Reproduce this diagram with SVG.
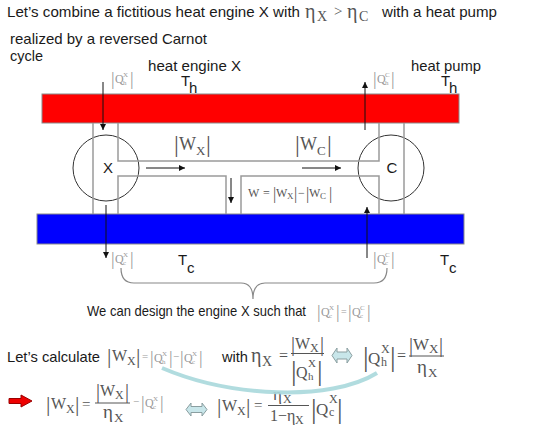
<svg xmlns="http://www.w3.org/2000/svg" width="547" height="438" viewBox="0 0 547 438">
<defs>
<style>
.t{font-family:"Liberation Sans",Arial,sans-serif;font-size:15px;fill:#1a1a1a}
.m{font-family:"Liberation Serif","Times New Roman",serif;fill:#555}
.ml{font-family:"Liberation Serif","Times New Roman",serif;fill:#9a9a9a}
.ch{fill:none;stroke:#9a9a9a;stroke-width:1.5}
.ar{fill:none;stroke:#111;stroke-width:1;marker-end:url(#ah)}
.dbl{fill:#c8e6ea;stroke:#8a9ea0;stroke-width:1}
</style>
<marker id="ah" markerWidth="8" markerHeight="8" refX="6" refY="3" orient="auto" markerUnits="userSpaceOnUse">
<path d="M0,0 L6,3 L0,6 Z" fill="#111"/>
</marker>
</defs>
<rect width="547" height="438" fill="#fff"/>

<!-- title texts -->
<g id="title">
<text class="t" x="7" y="17" textLength="293" lengthAdjust="spacingAndGlyphs">Let’s combine a fictitious heat engine X with</text>
<text class="m" x="305" y="18" font-size="20">η</text>
<text class="m" x="317" y="21" font-size="14">X</text>
<text class="m" x="334" y="16" font-size="15">&gt;</text>
<text class="m" x="347" y="18" font-size="20">η</text>
<text class="m" x="359" y="21" font-size="14">C</text>
<text class="t" x="382" y="17" textLength="115" lengthAdjust="spacingAndGlyphs">with a heat pump</text>
<text class="t" x="10" y="44" textLength="197" lengthAdjust="spacingAndGlyphs">realized by a reversed Carnot</text>
<text class="t" x="10" y="61" textLength="33" lengthAdjust="spacingAndGlyphs">cycle</text>
</g>

<!-- reservoirs -->
<g id="hot">
<rect x="42" y="94" width="417" height="29" fill="#ff0000" stroke="#8a8a8a" stroke-width="1"/>
</g>
<g id="cold">
<rect x="37" y="214" width="427" height="30" fill="#0000ff" stroke="#8a8a8a" stroke-width="1"/>
</g>

<!-- engines -->
<g id="engineX">
<circle cx="106" cy="168" r="33" fill="none" stroke="#333" stroke-width="1"/>
<text class="t" x="108" y="173" text-anchor="middle">X</text>
</g>
<g id="pumpC">
<circle cx="391" cy="168" r="33" fill="none" stroke="#333" stroke-width="1"/>
<text class="t" x="392" y="173" text-anchor="middle">C</text>
</g>

<!-- connectors -->
<g id="connectors">
<path class="ch" d="M93,123 V214"/>
<path class="ch" d="M118,123 V161 H379 V123"/>
<path class="ch" d="M118,214 V176 H226 V214"/>
<path class="ch" d="M241,214 V176 H379 V214"/>
<path class="ch" d="M404,123 V214"/>
<path class="ar" d="M103,82 V130"/>
<path class="ar" d="M106,205 V258"/>
<path class="ar" d="M365,130 V82"/>
<path class="ar" d="M367,258 V207"/>
<path class="ar" d="M146,168 H185"/>
<path class="ar" d="M302,168 H341"/>
<path class="ar" d="M231,178 V203"/>
<path d="M121,268 Q121,283 134,283 L241,283 Q253,283 253,299 Q253,283 265,283 L374,283 Q387,283 387,268" fill="none" stroke="#888" stroke-width="1.2"/>
</g>

<!-- diagram labels -->
<g id="labels">
<text class="t" x="148" y="71" textLength="93" lengthAdjust="spacingAndGlyphs">heat engine X</text>
<text class="t" x="181" y="86">T</text>
<text class="t" x="189" y="93" font-size="8">h</text>
<text class="t" x="411" y="71" textLength="70" lengthAdjust="spacingAndGlyphs">heat pump</text>
<text class="t" x="441" y="86">T</text>
<text class="t" x="449" y="93" font-size="8">h</text>
<text class="t" x="178" y="265">T</text>
<text class="t" x="187" y="273" font-size="8">c</text>
<text class="t" x="440" y="265">T</text>
<text class="t" x="449" y="273" font-size="8">c</text>

<!-- Qh^X -->
<text class="ml" x="111" y="85" font-size="18">|</text>
<text class="ml" x="115" y="83" font-size="12">Q</text>
<text class="ml" x="123" y="77" font-size="7">X</text>
<text class="ml" x="123" y="85" font-size="7">h</text>
<text class="ml" x="130" y="85" font-size="18">|</text>
<!-- Qh^C -->
<text class="ml" x="373" y="85" font-size="18">|</text>
<text class="ml" x="377" y="83" font-size="12">Q</text>
<text class="ml" x="385" y="77" font-size="7">C</text>
<text class="ml" x="385" y="85" font-size="7">h</text>
<text class="ml" x="391" y="85" font-size="18">|</text>
<!-- Qc^X -->
<text class="ml" x="111" y="265" font-size="18">|</text>
<text class="ml" x="115" y="263" font-size="12">Q</text>
<text class="ml" x="123" y="257" font-size="7">X</text>
<text class="ml" x="123" y="265" font-size="7">c</text>
<text class="ml" x="130" y="265" font-size="18">|</text>
<!-- Qc^C -->
<text class="ml" x="373" y="265" font-size="18">|</text>
<text class="ml" x="377" y="263" font-size="12">Q</text>
<text class="ml" x="385" y="257" font-size="7">C</text>
<text class="ml" x="385" y="265" font-size="7">c</text>
<text class="ml" x="391" y="265" font-size="18">|</text>

<!-- |W_X| -->
<text class="m" x="174" y="152" font-size="24">|</text>
<text class="m" x="179" y="150" font-size="18">W</text>
<text class="m" x="196" y="155" font-size="13">X</text>
<text class="m" x="206" y="152" font-size="24">|</text>
<!-- |W_C| -->
<text class="m" x="295" y="152" font-size="24">|</text>
<text class="m" x="300" y="150" font-size="18">W</text>
<text class="m" x="317" y="155" font-size="13">C</text>
<text class="m" x="327" y="152" font-size="24">|</text>
<!-- W = |W_X| - |W_C| -->
<text class="m" x="248" y="197" font-size="12">W</text>
<text class="m" x="263" y="197" font-size="12">=</text>
<text class="m" x="273" y="199" font-size="16">|</text>
<text class="m" x="276" y="197" font-size="12">W</text>
<text class="m" x="287" y="199" font-size="9">X</text>
<text class="m" x="294" y="199" font-size="16">|</text>
<text class="m" x="298" y="197" font-size="12">−</text>
<text class="m" x="306" y="199" font-size="16">|</text>
<text class="m" x="309" y="197" font-size="12">W</text>
<text class="m" x="320" y="199" font-size="9">C</text>
<text class="m" x="329" y="199" font-size="16">|</text>

<!-- design sentence -->
<text class="t" x="87" y="316" textLength="219" lengthAdjust="spacingAndGlyphs">We can design the engine X such that</text>
<text class="ml" x="317" y="318" font-size="18">|</text>
<text class="ml" x="321" y="316" font-size="12">Q</text>
<text class="ml" x="329" y="310" font-size="7">X</text>
<text class="ml" x="329" y="318" font-size="7">c</text>
<text class="ml" x="336" y="318" font-size="18">|</text>
<text class="ml" x="341" y="315" font-size="10">=</text>
<text class="ml" x="348" y="318" font-size="18">|</text>
<text class="ml" x="352" y="316" font-size="12">Q</text>
<text class="ml" x="360" y="310" font-size="7">C</text>
<text class="ml" x="360" y="318" font-size="7">c</text>
<text class="ml" x="367" y="318" font-size="18">|</text>
</g>

<!-- calculation row 2 -->
<g id="row2">
<text class="t" x="7" y="362" textLength="93" lengthAdjust="spacingAndGlyphs">Let’s calculate</text>
<text class="m" x="107" y="363" font-size="22">|</text>
<text class="m" x="112" y="361" font-size="16">W</text>
<text class="m" x="127" y="365" font-size="12">X</text>
<text class="m" x="136" y="363" font-size="22">|</text>
<text class="ml" x="142" y="360" font-size="11">=</text>
<text class="ml" x="150" y="364" font-size="18">|</text>
<text class="ml" x="154" y="362" font-size="12">Q</text>
<text class="ml" x="162" y="356" font-size="7">X</text>
<text class="ml" x="162" y="364" font-size="7">h</text>
<text class="ml" x="169" y="364" font-size="18">|</text>
<text class="ml" x="173" y="360" font-size="11">−</text>
<text class="ml" x="180" y="364" font-size="18">|</text>
<text class="ml" x="184" y="362" font-size="12">Q</text>
<text class="ml" x="192" y="356" font-size="7">X</text>
<text class="ml" x="192" y="364" font-size="7">c</text>
<text class="ml" x="199" y="364" font-size="18">|</text>

<text class="t" x="222" y="362" textLength="26" lengthAdjust="spacingAndGlyphs">with</text>
<text class="m" x="251" y="362" font-size="20">η</text>
<text class="m" x="262" y="366" font-size="14">X</text>
<text class="m" x="279" y="361" font-size="16">=</text>
<text class="m" x="291" y="351" font-size="20">|</text>
<text class="m" x="295" y="349" font-size="16">W</text>
<text class="m" x="310" y="352" font-size="12">X</text>
<text class="m" x="320" y="351" font-size="20">|</text>
<line x1="291" y1="353.5" x2="324" y2="353.5" stroke="#555" stroke-width="1"/>
<text class="m" x="291" y="380" font-size="28">|</text>
<text class="m" x="296" y="378" font-size="16">Q</text>
<text class="m" x="308" y="367" font-size="11">X</text>
<text class="m" x="308" y="380" font-size="11">h</text>
<text class="m" x="317" y="380" font-size="28">|</text>

<polygon class="dbl" points="332,355.5 337,348 337,352 347,352 347,348 352,355.5 347,363 347,359 337,359 337,363"/>

<text class="m" x="363" y="366" font-size="28">|</text>
<text class="m" x="368" y="364" font-size="17">Q</text>
<text class="m" x="381" y="353" font-size="12">X</text>
<text class="m" x="381" y="366" font-size="12">h</text>
<text class="m" x="390" y="366" font-size="28">|</text>
<text class="m" x="397" y="361" font-size="16">=</text>
<text class="m" x="409" y="352" font-size="20">|</text>
<text class="m" x="413" y="350" font-size="17">W</text>
<text class="m" x="429" y="353" font-size="13">X</text>
<text class="m" x="439" y="352" font-size="20">|</text>
<line x1="409" y1="356" x2="444" y2="356" stroke="#555" stroke-width="1"/>
<text class="m" x="417" y="373" font-size="19">η</text>
<text class="m" x="428" y="377" font-size="13">X</text>
</g>

<!-- calculation row 3 -->
<g id="row3">
<polygon points="9,398.5 21,398.5 21,395 32,401 21,407 21,403.5 9,403.5" fill="#ee0000" stroke="#990000" stroke-width="1"/>
<text class="m" x="46" y="411" font-size="22">|</text>
<text class="m" x="51" y="409" font-size="16">W</text>
<text class="m" x="66" y="413" font-size="12">X</text>
<text class="m" x="75" y="411" font-size="22">|</text>
<text class="m" x="82" y="409" font-size="15">=</text>
<text class="m" x="96" y="398" font-size="20">|</text>
<text class="m" x="100" y="396" font-size="16">W</text>
<text class="m" x="115" y="399" font-size="12">X</text>
<text class="m" x="125" y="398" font-size="20">|</text>
<line x1="95" y1="403" x2="130" y2="403" stroke="#555" stroke-width="1"/>
<text class="m" x="103" y="418" font-size="19">η</text>
<text class="m" x="114" y="422" font-size="13">X</text>
<text class="ml" x="133" y="405" font-size="11">−</text>
<text class="ml" x="141" y="409" font-size="18">|</text>
<text class="ml" x="145" y="407" font-size="12">Q</text>
<text class="ml" x="153" y="401" font-size="7">X</text>
<text class="ml" x="153" y="409" font-size="7">c</text>
<text class="ml" x="160" y="409" font-size="18">|</text>

<polygon class="dbl" points="186,409.5 191,403 191,406.5 202,406.5 202,403 207,409.5 202,416 202,412.5 191,412.5 191,416"/>

<text class="m" x="217" y="413" font-size="22">|</text>
<text class="m" x="222" y="411" font-size="16">W</text>
<text class="m" x="237" y="415" font-size="12">X</text>
<text class="m" x="246" y="413" font-size="22">|</text>
<text class="m" x="254" y="410" font-size="15">=</text>
<text class="m" x="273" y="400" font-size="17">η</text>
<text class="m" x="283" y="403" font-size="12">X</text>
<line x1="268" y1="405.5" x2="309" y2="405.5" stroke="#555" stroke-width="1"/>
<text class="m" x="270" y="421" font-size="16">1−η</text>
<text class="m" x="295" y="424" font-size="12">X</text>
<text class="m" x="311" y="418" font-size="28">|</text>
<text class="m" x="316" y="415" font-size="17">Q</text>
<text class="m" x="329" y="403" font-size="12">X</text>
<text class="m" x="329" y="416" font-size="12">c</text>
<text class="m" x="337" y="418" font-size="28">|</text>
</g>

<!-- highlight curve -->
<g id="highlight">
<path d="M162,368 C230,397 330,402 377,373" fill="none" stroke="#a9d8dc" stroke-width="4" stroke-linecap="butt" opacity="0.9"/>
</g>
</svg>
